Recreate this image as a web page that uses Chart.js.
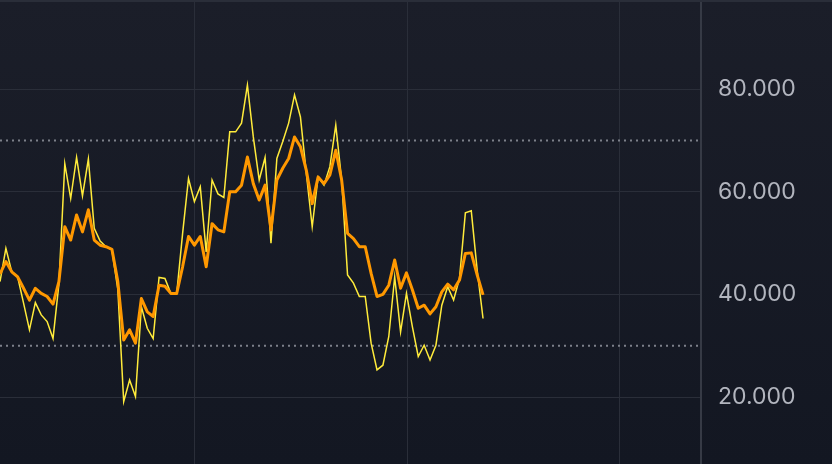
<!DOCTYPE html>
<html>
<head>
<meta charset="utf-8">
<script src="https://cdn.jsdelivr.net/npm/chart.js@4/dist/chart.umd.min.js"></script>
<style>
  html, body { margin: 0; padding: 0; }
  body { width: 832px; height: 464px; overflow: hidden; position: relative;
         background: linear-gradient(#1b1e29, #131722); }
  canvas { display: block; }
  .topline { position: absolute; left: 0; top: 0; width: 832px; height: 2px; background: #2a2e39; }
</style>
</head>
<body>
<canvas id="c" width="832" height="464"></canvas>
<div class="topline"></div>
<script>
// RSI-style pane: fast line (yellow) and smoothed line (orange)
const fast = [
  42.5, 49.0, 44.4, 43.4, 38.3, 33.1, 38.4, 36.0, 34.7, 31.4,
  42.0, 65.5, 58.7, 66.7, 59.2, 66.4, 52.9, 50.4, 49.3, 48.7,
  41.0, 19.1, 23.3, 20.1, 37.6, 33.4, 31.4, 43.3, 43.1, 40.2,
  40.2, 51.9, 62.6, 58.1, 61.0, 48.3, 62.3, 59.6, 58.9, 71.7,
  71.7, 73.4, 80.8, 70.7, 62.3, 66.7, 50.0, 66.5, 69.8, 73.4,
  78.9, 74.6, 63.6, 53.2, 62.9, 61.3, 64.9, 73.0, 62.3, 43.8,
  42.2, 39.6, 39.6, 30.5, 25.3, 26.2, 31.8, 43.4, 32.7, 40.2,
  33.7, 27.9, 30.1, 27.2, 30.1, 37.9, 41.5, 38.9, 43.1, 55.9,
  56.3, 44.8, 35.3
];
const smooth = [
  44.0, 46.4, 44.4, 43.4, 41.2, 38.9, 41.2, 40.2, 39.6, 38.1,
  42.5, 53.2, 50.6, 55.5, 52.2, 56.5, 50.6, 49.6, 49.3, 48.8,
  42.5, 31.1, 33.1, 30.5, 39.2, 36.6, 35.7, 41.8, 41.6, 40.2,
  40.2, 45.4, 51.3, 49.6, 51.3, 45.4, 53.8, 52.6, 52.2, 60.0,
  60.0, 61.3, 66.8, 61.6, 58.4, 61.3, 52.6, 62.3, 64.6, 66.5,
  70.7, 68.8, 64.2, 57.7, 62.9, 61.6, 63.3, 68.1, 62.3, 51.9,
  50.9, 49.3, 49.3, 44.1, 39.6, 40.0, 41.8, 46.7, 41.2, 44.2,
  40.9, 37.3, 37.9, 36.2, 37.6, 40.5, 42.0, 40.9, 42.8, 48.0,
  48.1, 43.8, 39.9
];
const yTicks = [20, 40, 60, 80];
const levels = [70, 30];
const xGridAt = [33.1, 69.1, 105.1];
const xRange = [0, 119];
const yRange = [6.94, 97.4];

const pts = arr => arr.map((v, i) => ({ x: i, y: v }));
const levelSets = levels.map(v => ({
  data: [{ x: xRange[0], y: v }, { x: xRange[1], y: v }],
  borderColor: '#7d808a', borderWidth: 2, borderDash: [2, 4],
  pointRadius: 0, order: 3
}));

new Chart(document.getElementById('c'), {
  type: 'line',
  data: {
    datasets: [
      { data: pts(smooth), borderColor: '#ff9800', borderWidth: 3, pointRadius: 0,
        tension: 0, borderJoinStyle: 'round', order: 0 },
      { data: pts(fast), borderColor: '#ffeb3b', borderWidth: 1.5, pointRadius: 0,
        tension: 0, order: 1 },
      ...levelSets
    ]
  },
  options: {
    responsive: false, animation: false,
    layout: { padding: 0 },
    plugins: { legend: { display: false }, tooltip: { enabled: false } },
    scales: {
      x: {
        type: 'linear', min: xRange[0], max: xRange[1],
        afterBuildTicks: s => { s.ticks = xGridAt.map(v => ({ value: v })); },
        afterFit: s => { s.height = 0; s.paddingLeft = 0; s.paddingRight = 0; },
        grid: { color: '#2a2e39', lineWidth: 1, drawTicks: false },
        border: { display: false },
        ticks: { display: false }
      },
      y: {
        position: 'right', min: yRange[0], max: yRange[1],
        afterBuildTicks: s => { s.ticks = yTicks.map(v => ({ value: v })); },
        afterFit: s => { s.width = 131; s.paddingTop = 0; s.paddingBottom = 0; },
        grid: { color: '#2a2e39', lineWidth: 1, drawTicks: false },
        border: { display: true, color: '#363a45', width: 2 },
        ticks: {
          padding: 17, color: '#b2b5be',
          font: { family: 'Inter', size: 23 },
          callback: v => v.toFixed(3)
        }
      }
    }
  }
});
</script>
</body>
</html>
